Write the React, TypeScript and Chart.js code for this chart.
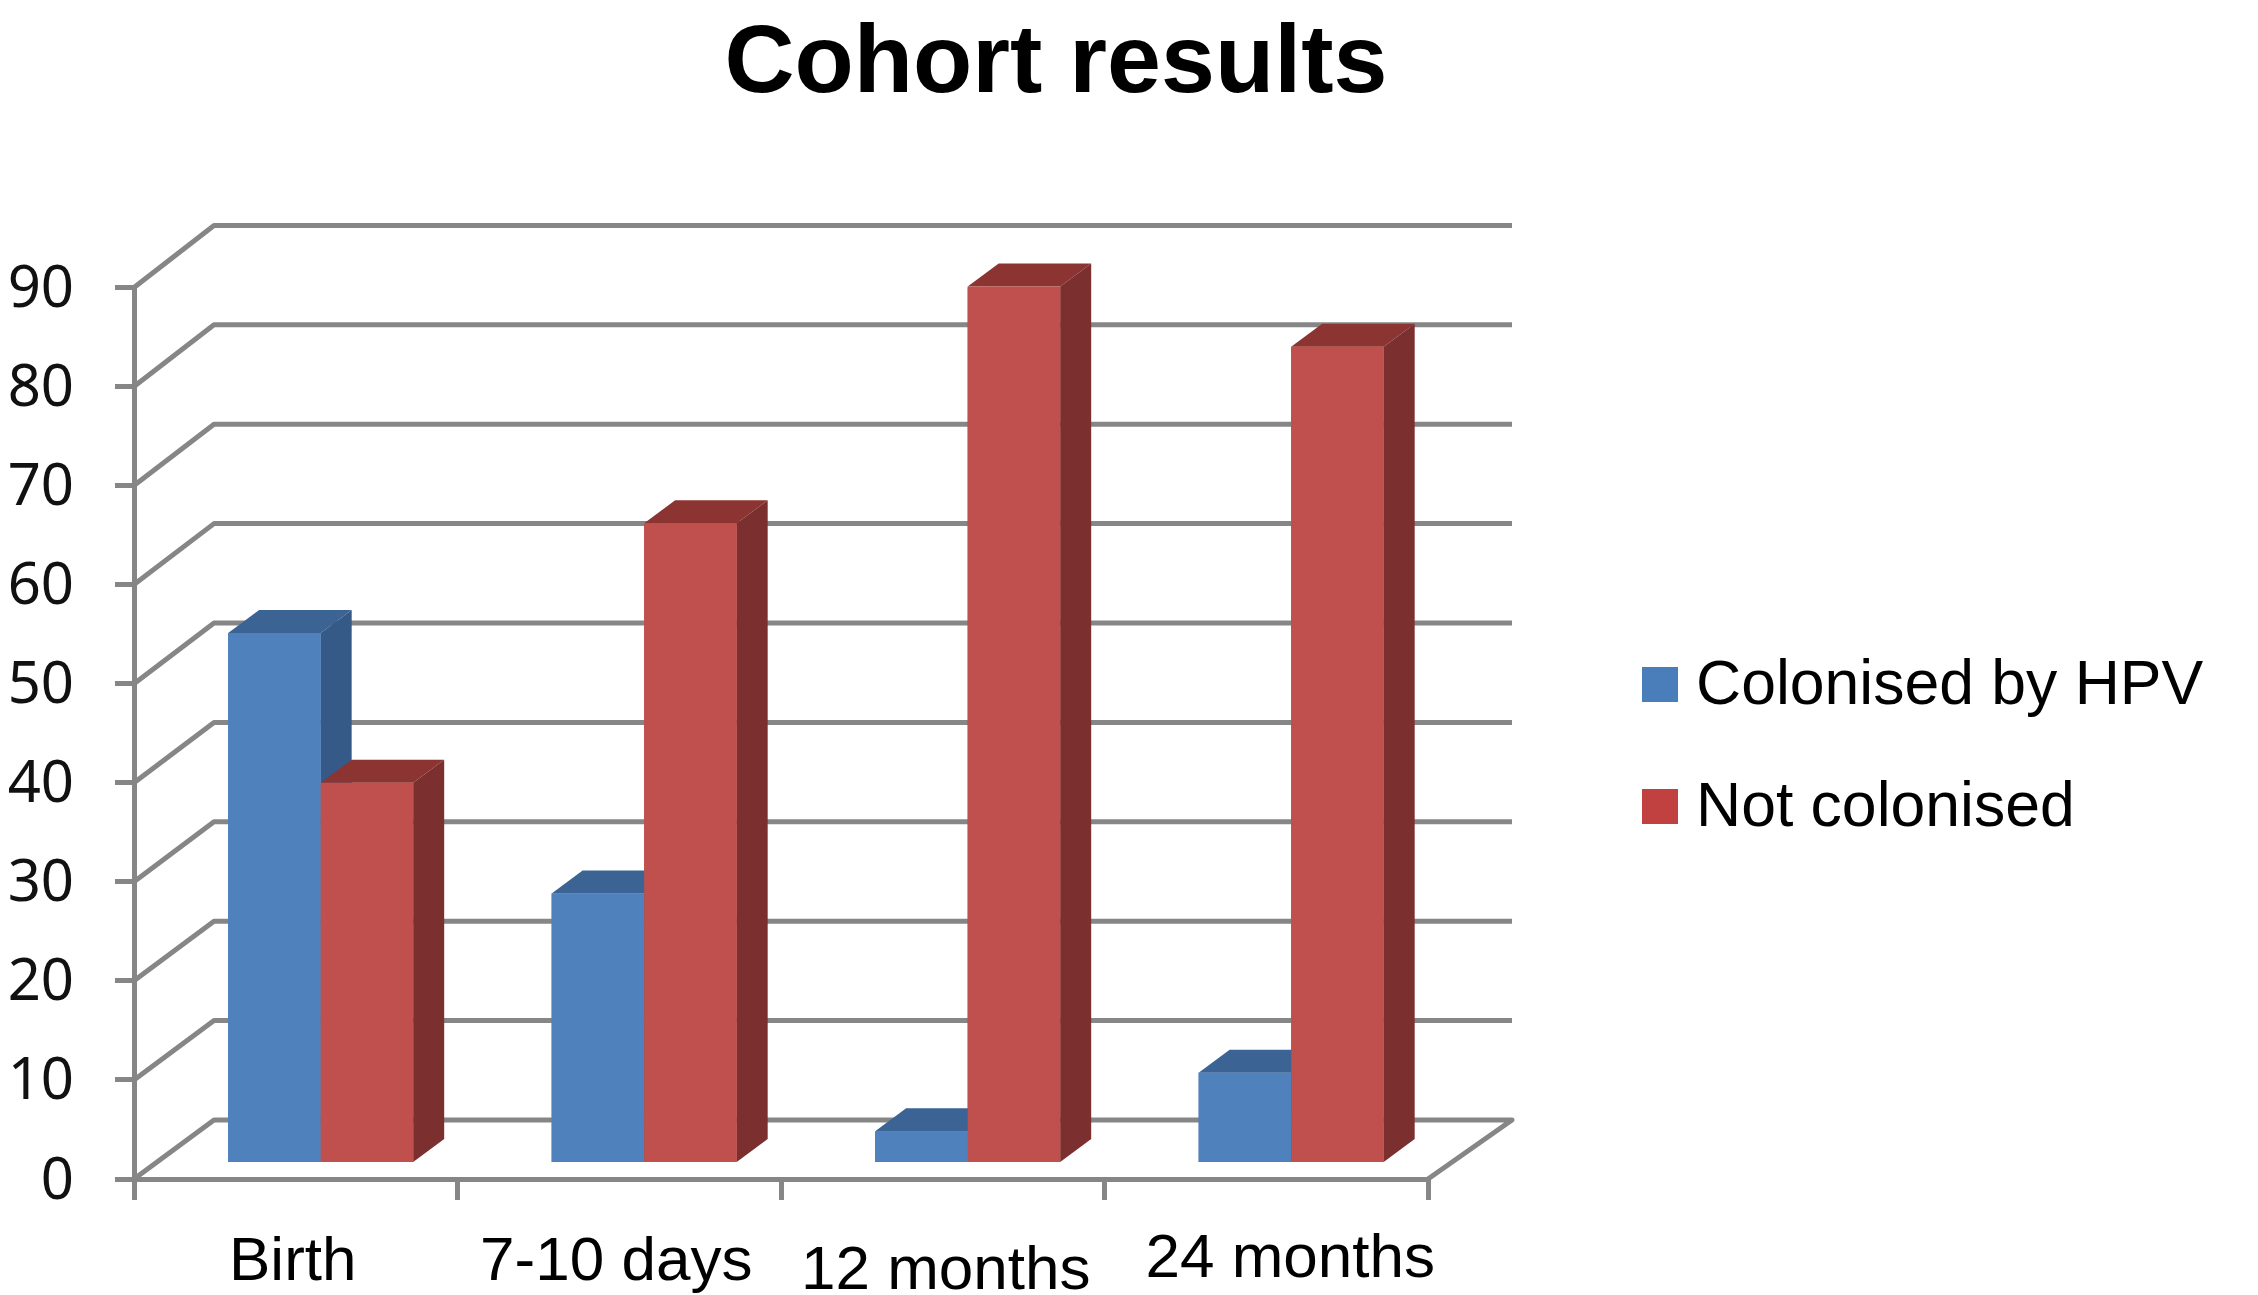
import { useEffect, useRef } from "react"
import { Chart, registerables } from "chart.js"

Chart.register(...registerables)

const title = "Cohort results"
const categories = ["Birth", "7-10 days", "12 months", "24 months"]
const colonised = [53.4, 27.1, 3.1, 9.0]
const notColonised = [38.3, 64.5, 88.4, 82.3]
const yTicks = [0, 10, 20, 30, 40, 50, 60, 70, 80, 90]

// the labels in the picture don't sit exactly under the ticks
const labelNudge = [
  [-3, 1280],
  [-3, 1280],
  [3, 1289],
  [24, 1277],
]

const GRID = "#868686"
const BAR_DX = 31
const BAR_DY = 23
const WALL_DX = 80
const WALL_DY = 59
const FLOOR_RIGHT_DX = 84

const faces = [
  { front: "#4f81bd", side: "#365a87", top: "#3b6393", legend: "#4a7ebb" },
  { front: "#c0504d", side: "#7b2f2e", top: "#8c3432", legend: "#c0413f" },
]

const polygon = (ctx: CanvasRenderingContext2D, pts: number[][], fill: string) => {
  ctx.fillStyle = fill
  ctx.beginPath()
  pts.forEach(([x, y], i) => (i ? ctx.lineTo(x, y) : ctx.moveTo(x, y)))
  ctx.closePath()
  ctx.fill()
}

// back wall and floor behind the bars
const wallPlugin = {
  id: "wall",
  beforeDatasetsDraw(chart: any) {
    const { ctx, scales } = chart
    const { left, right } = chart.chartArea
    ctx.save()
    ctx.strokeStyle = GRID
    ctx.lineWidth = 5
    ctx.lineJoin = "round"
    yTicks.forEach((v) => {
      const y = scales.y.getPixelForValue(v)
      const backY = y - WALL_DY - v * 0.033
      ctx.beginPath()
      ctx.moveTo(left, y)
      ctx.lineTo(left + WALL_DX, backY)
      ctx.lineTo(right + FLOOR_RIGHT_DX, backY)
      if (v === 0) ctx.lineTo(right, y)
      ctx.stroke()
    })
    ctx.restore()
  },
  afterDatasetsDraw(chart: any) {
    const { ctx } = chart
    ctx.save()
    chart.data.datasets.forEach((_: any, i: number) => {
      const color = faces[i]
      chart.getDatasetMeta(i).data.forEach((bar: any) => {
        const l = bar.x - bar.width / 2
        const r = bar.x + bar.width / 2
        polygon(ctx, [[l, bar.y], [l + BAR_DX, bar.y - BAR_DY], [r + BAR_DX, bar.y - BAR_DY], [r, bar.y]], color.top)
        polygon(ctx, [[r, bar.y], [r + BAR_DX, bar.y - BAR_DY], [r + BAR_DX, bar.base - BAR_DY], [r, bar.base]], color.side)
        bar.draw(ctx)
      })
    })
    ctx.restore()
  },
  afterDraw(chart: any) {
    const { ctx, scales } = chart
    ctx.save()
    ctx.fillStyle = "#000"
    ctx.font = '62px "Liberation Sans"'
    ctx.textBaseline = "alphabetic"

    // category labels
    ctx.textAlign = "center"
    categories.forEach((label, i) => {
      ctx.fillText(label, scales.x.getPixelForTick(i) + labelNudge[i][0], labelNudge[i][1])
    })

    // legend
    ctx.textAlign = "left"
    ctx.font = '62.5px "Liberation Sans"'
    chart.data.datasets.forEach((ds: any, i: number) => {
      const baseline = 704 + i * 122
      ctx.fillStyle = faces[i].legend
      ctx.fillRect(1642, baseline - 37, 36, 35)
      ctx.fillStyle = "#000"
      ctx.fillText(ds.label, 1696, baseline)
    })
    ctx.restore()
  },
  afterLayout(chart: any) {
    // centre the title over the picture, not the plot
    chart.titleBlock.left = 0
    chart.titleBlock.right = 2112
  },
}

export default function App() {
  const canvasRef = useRef<HTMLCanvasElement>(null)

  useEffect(() => {
    if (!canvasRef.current) return

    const chart = new Chart(canvasRef.current, {
      type: "bar",
      data: {
        labels: categories,
        datasets: [
          {
            label: "Colonised by HPV",
            data: colonised.map((y, x) => ({ x, y })),
            backgroundColor: faces[0].front,
            xAxisID: "xBars",
            yAxisID: "yBars",
            categoryPercentage: 0.572,
            barPercentage: 1,
          },
          {
            label: "Not colonised",
            data: notColonised.map((y, x) => ({ x, y })),
            backgroundColor: faces[1].front,
            xAxisID: "xBars",
            yAxisID: "yBars",
            categoryPercentage: 0.572,
            barPercentage: 1,
          },
        ],
      } as any,
      options: {
        responsive: false,
        animation: false,
        devicePixelRatio: 1,
        layout: { padding: { top: 0, right: 830, bottom: 0, left: 0 } },
        scales: {
          x: {
            type: "category",
            offset: true,
            afterFit: (s: any) => {
              s.height = 116
            },
            border: { color: GRID, width: 5 },
            grid: { offset: true, color: GRID, lineWidth: 5, tickLength: 21, drawOnChartArea: false },
            ticks: { display: false },
          },
          y: {
            type: "linear",
            min: 0,
            max: 90,
            afterFit: (s: any) => {
              s.width = 134
            },
            border: { color: GRID, width: 5 },
            grid: { color: GRID, lineWidth: 5, tickLength: 19, drawOnChartArea: false },
            ticks: {
              stepSize: 10,
              padding: 41,
              labelOffset: 3,
              color: "#111",
              font: { family: "Noto Sans", size: 58 },
            },
          },
          // bars stand inside the floor, so they get their own shifted scales
          xBars: {
            type: "linear",
            axis: "x",
            display: false,
            offset: false,
            min: -0.577,
            max: 3.423,
            ticks: { stepSize: 1, includeBounds: false },
          },
          yBars: { type: "linear", axis: "y", display: false, min: -1.715, max: 88.3 },
        },
        plugins: {
          legend: { display: false },
          tooltip: { enabled: false },
          title: {
            display: true,
            text: title,
            color: "#000",
            font: { family: "Liberation Sans", size: 97, weight: "bold", lineHeight: 1.2 },
            padding: { top: 7, bottom: 164 },
          },
        },
      } as any,
      plugins: [wallPlugin],
    })

    return () => {
      chart.destroy()
    }
  }, [])

  return (
    <div style={{ position: "absolute", left: 0, top: 0 }}>
      <canvas ref={canvasRef} width={2258} height={1295}></canvas>
    </div>
  )
}
